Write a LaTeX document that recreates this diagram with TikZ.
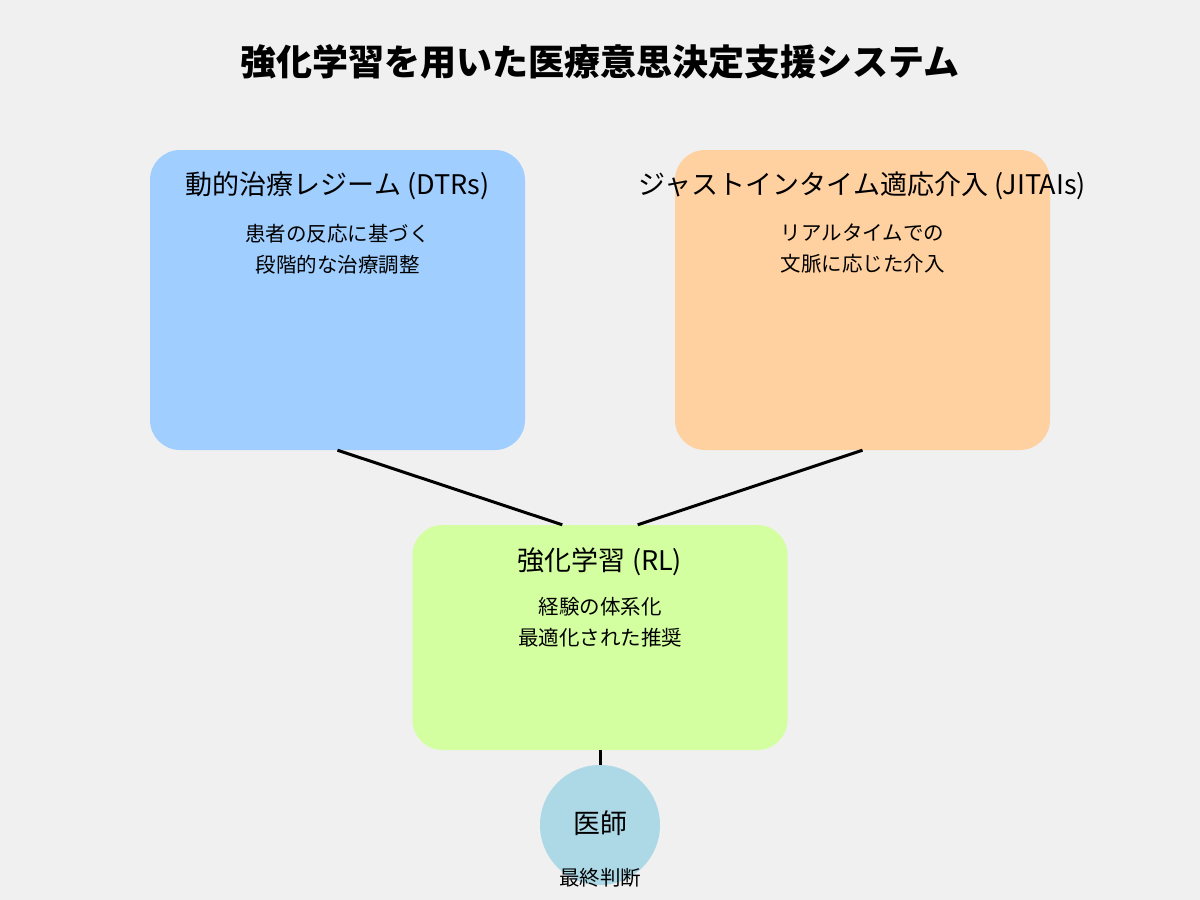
\documentclass[tikz,border=0pt]{standalone}
\usepackage{fontspec}
\setmainfont{Noto Sans CJK JP}
\definecolor{bgcol}{HTML}{F0F0F0}
\definecolor{dtrcol}{HTML}{A0CFFF}
\definecolor{jitcol}{HTML}{FFD0A0}
\definecolor{rlcol}{HTML}{D3FFA0}
\definecolor{doccol}{HTML}{ADD8E6}
\tikzset{
  box/.style={rounded corners=30pt, minimum width=375pt, inner sep=0pt},
  head/.style={font=\fontsize{27}{31}\selectfont},
  body/.style={font=\fontsize{20.5}{31}\selectfont, align=center},
  link/.style={line width=3pt}
}
\begin{document}
\begin{tikzpicture}[x=1pt, y=-1pt]
    \fill[bgcol] (0,0) rectangle (1200,900);
    \useasboundingbox (0,0) rectangle (1200,900);
    \node[font=\fontsize{36}{40}\selectfont\bfseries] (title) at (600,62) {強化学習を用いた医療意思決定支援システム};

    \node[box, fill=dtrcol, minimum height=300pt] (dtr) at (337.5,300) {};
    \node[box, fill=jitcol, minimum height=300pt] (jit) at (862.5,300) {};
    \node[box, fill=rlcol, minimum height=225pt] (rl) at (600,637.5) {};
    \node[circle, fill=doccol, minimum size=120pt, inner sep=0pt] (doc) at (600,825) {};

    \node[head] (dtrh) at (337.5,186) {動的治療レジーム (DTRs)};
    \node[body] (dtrb) at (337.5,249) {患者の反応に基づく\\段階的な治療調整};
    \node[head] (jith) at (862.5,186) {ジャストインタイム適応介入 (JITAIs)};
    \node[body] (jitb) at (862.5,249) {リアルタイムでの\\文脈に応じた介入};
    \node[head] (rlh) at (600,562) {強化学習 (RL)};
    \node[body] (rlb) at (600,622) {経験の体系化\\最適化された推奨};
    \node[font=\fontsize{27}{32}\selectfont] (doch) at (600,823) {医師};
    \node[font=\fontsize{20.5}{24}\selectfont] (docb) at (600,878) {最終判断};

    \draw[link] (dtr.south) -- ([xshift=150pt]rl.north west);
    \draw[link] (jit.south) -- ([xshift=-150pt]rl.north east);
    \draw[link] (rl.south) -- (doc.north);
\end{tikzpicture}
\end{document}
